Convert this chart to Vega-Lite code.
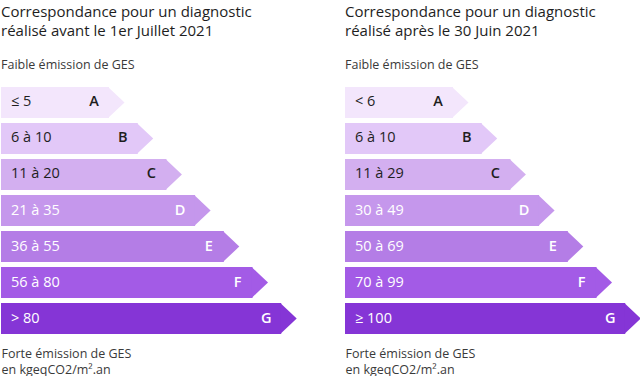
{
  "$schema": "https://vega.github.io/schema/vega-lite/v6.json",
  "padding": {"left": 1, "top": 5, "right": 0, "bottom": 0},
  "spacing": 48,
  "config": {
    "font": "Open Sans",
    "view": {"stroke": null},
    "title": {"anchor": "start", "fontSize": 15, "fontWeight": 500, "color": "#1e1e1e", "lineHeight": 19, "subtitleFontSize": 12.5, "subtitleColor": "#3a3a3a", "subtitlePadding": 20, "offset": 15}
  },
  "datasets": {
    "avant": [
      {"classe": "A", "rang": 1, "plage": "≤ 5"},
      {"classe": "B", "rang": 2, "plage": "6 à 10"},
      {"classe": "C", "rang": 3, "plage": "11 à 20"},
      {"classe": "D", "rang": 4, "plage": "21 à 35"},
      {"classe": "E", "rang": 5, "plage": "36 à 55"},
      {"classe": "F", "rang": 6, "plage": "56 à 80"},
      {"classe": "G", "rang": 7, "plage": "> 80"}
    ],
    "apres": [
      {"classe": "A", "rang": 1, "plage": "< 6"},
      {"classe": "B", "rang": 2, "plage": "6 à 10"},
      {"classe": "C", "rang": 3, "plage": "11 à 29"},
      {"classe": "D", "rang": 4, "plage": "30 à 49"},
      {"classe": "E", "rang": 5, "plage": "50 à 69"},
      {"classe": "F", "rang": 6, "plage": "70 à 99"},
      {"classe": "G", "rang": 7, "plage": "≥ 100"}
    ]
  },
  "hconcat": [
    {
      "width": 296, "height": 247,
      "data": {"name": "avant"},
      "title": {"text": ["Correspondance pour un diagnostic", "réalisé avant le 1er Juillet 2021"], "subtitle": "Faible émission de GES"},
      "encoding": {
        "y": {"field": "classe", "type": "nominal", "axis": null, "scale": {"paddingInner": 0.139, "paddingOuter": 0}},
        "x": {"field": "rang", "type": "quantitative", "scale": {"domain": [-2.763, 7.55], "nice": false, "zero": false},
          "axis": {"title": ["Forte émission de GES", "en kgeqCO2/m².an"], "titleAnchor": "start", "titleAlign": "left", "titleFontSize": 12.5, "titleFontWeight": "normal", "titleColor": "#3a3a3a", "titleLineHeight": 16, "titlePadding": 13, "labels": false, "ticks": false, "domain": false, "grid": false}}
      },
      "layer": [
        {"mark": {"type": "bar", "cornerRadius": 0}, "encoding": {"x2": {"datum": -2.763}, "color": {"field": "classe", "type": "nominal", "legend": null, "scale": {"range": ["#f3e6fc", "#e2c8f8", "#d3aff0", "#c597ec", "#b47de6", "#a35be6", "#8535d6"]}}}},
        {"mark": {"type": "point", "shape": "M-0.06,-1L1,0L-0.06,1Z", "filled": true, "opacity": 1, "size": 961, "strokeWidth": 0}, "encoding": {"color": {"field": "classe", "type": "nominal", "legend": null}}},
        {"mark": {"type": "text", "align": "left", "dx": 10, "fontSize": 14.5, "fontWeight": 500}, "encoding": {"x": {"datum": -2.763}, "text": {"field": "plage"}, "color": {"condition": {"test": "datum.rang <= 3", "value": "#1e1e1e"}, "value": "#ffffff"}}},
        {"mark": {"type": "text", "align": "center", "dx": -15, "fontSize": 14.5, "fontWeight": 600}, "encoding": {"text": {"field": "classe"}, "color": {"condition": {"test": "datum.rang <= 3", "value": "#1e1e1e"}, "value": "#ffffff"}}}
      ]
    },
    {
      "width": 296, "height": 247,
      "data": {"name": "apres"},
      "title": {"text": ["Correspondance pour un diagnostic", "réalisé après le 30 Juin 2021"], "subtitle": "Faible émission de GES"},
      "encoding": {
        "y": {"field": "classe", "type": "nominal", "axis": null, "scale": {"paddingInner": 0.139, "paddingOuter": 0}},
        "x": {"field": "rang", "type": "quantitative", "scale": {"domain": [-2.763, 7.55], "nice": false, "zero": false},
          "axis": {"title": ["Forte émission de GES", "en kgeqCO2/m².an"], "titleAnchor": "start", "titleAlign": "left", "titleFontSize": 12.5, "titleFontWeight": "normal", "titleColor": "#3a3a3a", "titleLineHeight": 16, "titlePadding": 13, "labels": false, "ticks": false, "domain": false, "grid": false}}
      },
      "layer": [
        {"mark": {"type": "bar", "cornerRadius": 0}, "encoding": {"x2": {"datum": -2.763}, "color": {"field": "classe", "type": "nominal", "legend": null, "scale": {"range": ["#f3e6fc", "#e2c8f8", "#d3aff0", "#c597ec", "#b47de6", "#a35be6", "#8535d6"]}}}},
        {"mark": {"type": "point", "shape": "M-0.06,-1L1,0L-0.06,1Z", "filled": true, "opacity": 1, "size": 961, "strokeWidth": 0}, "encoding": {"color": {"field": "classe", "type": "nominal", "legend": null}}},
        {"mark": {"type": "text", "align": "left", "dx": 10, "fontSize": 14.5, "fontWeight": 500}, "encoding": {"x": {"datum": -2.763}, "text": {"field": "plage"}, "color": {"condition": {"test": "datum.rang <= 3", "value": "#1e1e1e"}, "value": "#ffffff"}}},
        {"mark": {"type": "text", "align": "center", "dx": -15, "fontSize": 14.5, "fontWeight": 600}, "encoding": {"text": {"field": "classe"}, "color": {"condition": {"test": "datum.rang <= 3", "value": "#1e1e1e"}, "value": "#ffffff"}}}
      ]
    }
  ]
}
